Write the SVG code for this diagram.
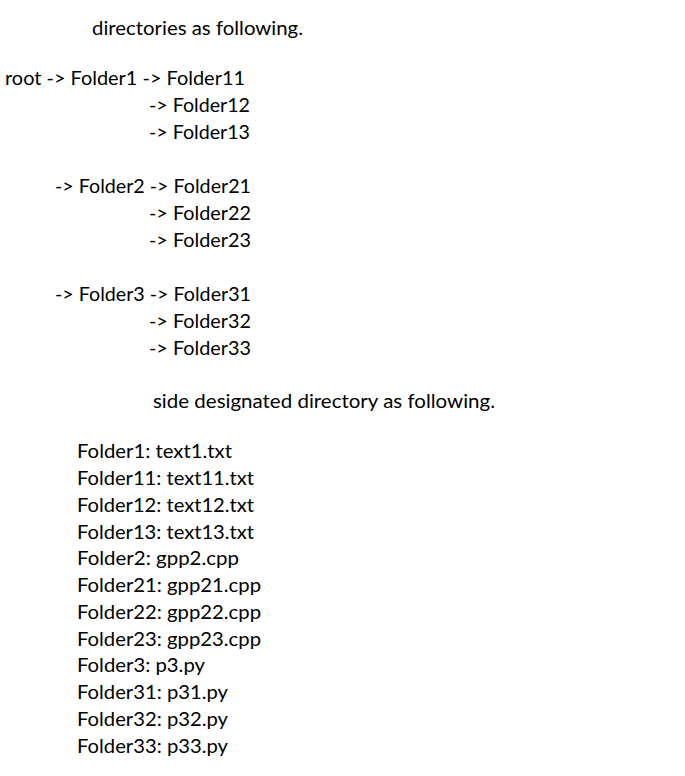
<svg xmlns="http://www.w3.org/2000/svg" width="685" height="776" viewBox="0 0 685 776">
<style>
text { font-family: Lato, "Open Sans", "Liberation Sans", sans-serif; font-size: 19.5px; fill: #000; }
</style>
<rect width="685" height="776" fill="#fff"/>
<g id="tree">
<text x="92" y="35" textLength="211" lengthAdjust="spacingAndGlyphs">directories as following.</text>
<text x="5" y="85" textLength="240" lengthAdjust="spacingAndGlyphs">root -&gt; Folder1 -&gt; Folder11</text>
<text x="149" y="112" textLength="101" lengthAdjust="spacingAndGlyphs">-&gt; Folder12</text>
<text x="149" y="139" textLength="101" lengthAdjust="spacingAndGlyphs">-&gt; Folder13</text>
<text x="55" y="193" textLength="196" lengthAdjust="spacingAndGlyphs">-&gt; Folder2 -&gt; Folder21</text>
<text x="149" y="220" textLength="102" lengthAdjust="spacingAndGlyphs">-&gt; Folder22</text>
<text x="149" y="247" textLength="102" lengthAdjust="spacingAndGlyphs">-&gt; Folder23</text>
<text x="55" y="301" textLength="196" lengthAdjust="spacingAndGlyphs">-&gt; Folder3 -&gt; Folder31</text>
<text x="149" y="328" textLength="102" lengthAdjust="spacingAndGlyphs">-&gt; Folder32</text>
<text x="149" y="355" textLength="102" lengthAdjust="spacingAndGlyphs">-&gt; Folder33</text>
</g>
<g id="files">
<text x="153" y="408" textLength="342" lengthAdjust="spacingAndGlyphs">side designated directory as following.</text>
<text x="77" y="458" textLength="155" lengthAdjust="spacingAndGlyphs">Folder1: text1.txt</text>
<text x="77" y="485" textLength="177" lengthAdjust="spacingAndGlyphs">Folder11: text11.txt</text>
<text x="77" y="512" textLength="177" lengthAdjust="spacingAndGlyphs">Folder12: text12.txt</text>
<text x="77" y="539" textLength="177" lengthAdjust="spacingAndGlyphs">Folder13: text13.txt</text>
<text x="77" y="565" textLength="162" lengthAdjust="spacingAndGlyphs">Folder2: gpp2.cpp</text>
<text x="77" y="592" textLength="184" lengthAdjust="spacingAndGlyphs">Folder21: gpp21.cpp</text>
<text x="77" y="619" textLength="184" lengthAdjust="spacingAndGlyphs">Folder22: gpp22.cpp</text>
<text x="77" y="646" textLength="184" lengthAdjust="spacingAndGlyphs">Folder23: gpp23.cpp</text>
<text x="77" y="672" textLength="128" lengthAdjust="spacingAndGlyphs">Folder3: p3.py</text>
<text x="77" y="699" textLength="151" lengthAdjust="spacingAndGlyphs">Folder31: p31.py</text>
<text x="77" y="726" textLength="151" lengthAdjust="spacingAndGlyphs">Folder32: p32.py</text>
<text x="77" y="753" textLength="151" lengthAdjust="spacingAndGlyphs">Folder33: p33.py</text>
</g>
</svg>
